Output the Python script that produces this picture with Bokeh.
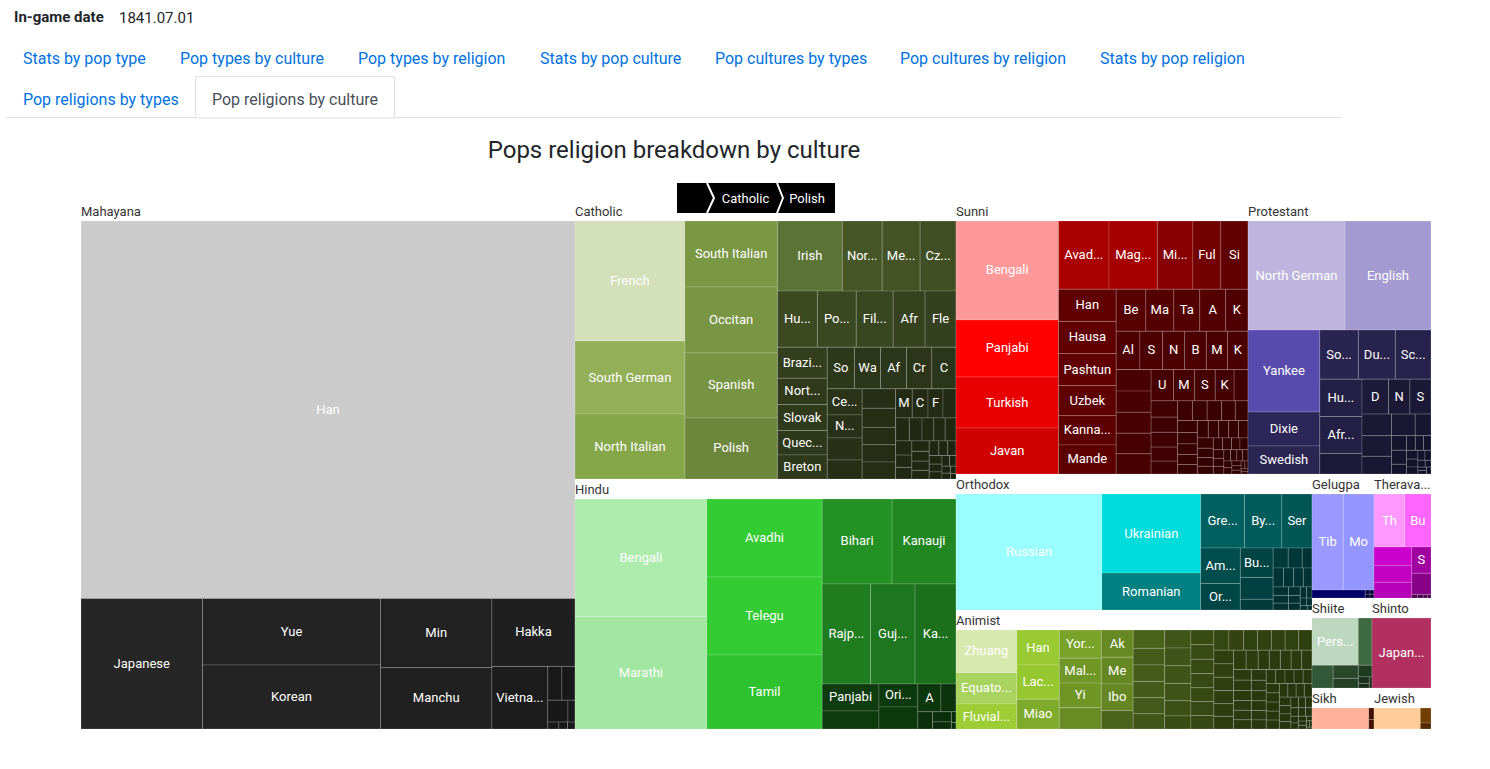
from bokeh.core.properties import value
from bokeh.embed import file_html
from bokeh.models import ColumnDataSource, Range1d
from bokeh.plotting import figure
from bokeh.resources import INLINE

# religion totals and culture values
religions = ["Mahayana", "Catholic", "Hindu", "Sunni", "Protestant", "Orthodox", "Animist",
             "Gelugpa", "Theravada", "Shiite", "Shinto", "Sikh", "Jewish"]
religion_labels = ["Mahayana", "Catholic", "Hindu", "Sunni", "Protestant", "Orthodox", "Animist",
                   "Gelugpa", "Therava...", "Shiite", "Shinto", "Sikh", "Jewish"]
religion_totals = [260832, 105918, 95250, 79716, 49959, 48416, 42364, 7688, 7068, 5400, 5310, 2542, 2337]

mahayana_names = ["Han", "Japanese", "Yue", "Korean", "Min", "Manchu", "Hakka", "Vietna..."]
mahayana_values = [186485, 15856, 11837, 11392, 7694, 6835, 5644, 3500, 476, 442, 440, 154, 77, 60, 52]

catholic_names = ["French", "South German", "North Italian", "South Italian", "Occitan", "Spanish", "Polish",
                  "Irish", "Nor...", "Me...", "Cz...", "Hu...", "Po...", "Fil...", "Afr", "Fle",
                  "Brazi...", "Nort...", "Slovak", "Quec...", "Breton", "So", "Wa", "Af", "Cr", "C",
                  "Ce...", "N...", "", "", "", "", "", "", "", "M", "C", "F"]
catholic_values = [13200, 8030, 7150, 6118, 6100, 6025, 5655, 4550, 2800, 2660, 2520, 2240, 2184, 2072, 1792, 1736,
                   1550, 1310, 1290, 1220, 1200, 1134, 1092, 1085, 1050, 1008, 910, 805, 770, 665, 650, 640, 585,
                   575, 570, 483, 460, 437, 378, 315, 294, 273, 260, 250, 230, 200, 190, 180, 170, 160, 150, 140,
                   130, 120, 110, 100, 90, 80, 70, 60, 50, 40, 30]

hindu_names = ["Bengali", "Marathi", "Avadhi", "Telegu", "Tamil", "Bihari", "Kanauji", "Rajp...", "Guj...", "Ka...",
               "Panjabi", "", "Ori...", "", "A"]
hindu_values = [15536, 14824, 9009, 9000, 8547, 5950, 5440, 4850, 4450, 4100, 1539, 1026, 897, 858, 644, 420, 255,
                190, 133, 50, 30]

sunni_names = ["Bengali", "Panjabi", "Turkish", "Javan", "Avad...", "Mag...", "Mi...", "Ful", "Si",
               "Han", "Hausa", "Pashtun", "Uzbek", "Kanna...", "Mande", "Be", "Ma", "Ta", "A", "K",
               "Al", "S", "N", "B", "M", "K", "", "", "", "", "", "U", "M", "S", "K"]
sunni_values = [10148, 5843, 5228, 4715, 3448, 3298, 2428, 1904, 1856, 1854, 1852, 1850, 1740, 1682, 1680,
                1247, 1176, 1092, 1090, 937, 912, 870, 850, 830, 820, 780, 750, 740, 730, 720, 705, 700, 651, 650,
                589, 434, 430, 400, 390, 370, 340, 295, 290, 285, 270, 250, 240, 225, 210, 200, 190, 190, 180, 175,
                170, 165, 165, 150, 138, 123, 110, 105, 100, 95, 90, 85, 80, 75, 70, 65, 60, 55, 50, 45, 40, 35,
                30, 25, 20, 15]

protestant_names = ["North German", "English", "Yankee", "Dixie", "Swedish", "So...", "Du...", "Sc...",
                    "Hu...", "Afr...", "", "D", "N", "S"]
protestant_values = [10573, 9374, 5879, 2438, 2008, 1891, 1813, 1749, 1576, 1560, 865, 924, 745, 735, 638, 606,
                     520, 512, 341, 219, 210, 146, 130, 120, 110, 100, 90, 80, 70, 60, 50, 40, 30, 30, 30]

orthodox_names = ["Russian", "Ukrainian", "Romanian", "Gre...", "By...", "Ser", "Am...", "Or...", "Bu..."]
orthodox_values = [16901, 7789, 3648, 2363, 2008, 1627, 1403, 1052, 965, 717, 349, 302, 280, 196, 195, 190, 185,
                   165, 130, 120, 105, 100, 90, 80, 70, 60, 50, 40, 30, 20]

animist_names = ["Zhuang", "Equato...", "Fluvial...", "Han", "Lac...", "Miao", "Yor...", "Mal...", "Yi", "",
                 "Ak", "Me", "Ibo"]
animist_values = [2605, 1909, 1525, 1495, 1465, 1268, 1189, 1050, 1040, 895, 870, 860, 850, 590, 580, 525, 520,
                  515, 510, 480, 475, 470, 465, 460, 400, 345, 340, 335, 330, 325, 320, 318, 312, 305, 295,
                  285, 280, 280, 275, 270, 270, 265, 263, 260, 250, 250, 245, 235, 215, 215, 210, 205, 200, 190,
                  185, 180, 175, 170, 165, 160, 155, 150, 145, 140, 135, 135, 130, 128, 128, 125, 122, 122, 120,
                  118, 118, 115, 112, 110, 105, 100, 95, 90, 85, 80, 75, 70, 65, 60, 55, 50, 45, 40, 35, 30, 25,
                  20, 15, 10]

gelugpa_names = ["Tib", "Mo"]
gelugpa_values = [3014, 2956, 424, 20, 18, 17, 15]

theravada_names = ["Th", "Bu", "", "", "", "S"]
theravada_values = [1627, 1394, 690, 641, 592, 507, 413, 20, 18, 14, 12]

shiite_names = ["Pers..."]
shiite_values = [2162, 644, 476, 328, 240, 158, 70, 50, 30]

shinto_names = ["Japan..."]
shinto_values = [4150]

sikh_names = [""]
sikh_values = [1182, 60, 50]

jewish_names = [""]
jewish_values = [972, 160, 64]

culture_names = [mahayana_names, catholic_names, hindu_names, sunni_names, protestant_names, orthodox_names,
                 animist_names, gelugpa_names, theravada_names, shiite_names, shinto_names, sikh_names, jewish_names]
culture_values = [mahayana_values, catholic_values, hindu_values, sunni_values, protestant_values, orthodox_values,
                  animist_values, gelugpa_values, theravada_values, shiite_values, shinto_values, sikh_values,
                  jewish_values]

# share of the biggest culture -> tile colour
ramps = {
    "Mahayana": [(1, "#cbcbcb"), (.09, "#262626"), (.06, "#232323"), (.04, "#212121"), (.02, "#1c1c1c"), (0, "#181818")],
    "Catholic": [(1, "#d3e0ba"), (.61, "#93b058"), (.54, "#85a74a"), (.46, "#799644"), (.43, "#6c873c"),
                 (.345, "#5b7335"), (.21, "#475626"), (.17, "#3b4a21"), (.117, "#333e1d"), (.086, "#2d371a"),
                 (.05, "#262e16"), (.01, "#1f2611"), (0, "#1a2010")],
    "Hindu": [(1, "#aeecae"), (.95, "#a0e7a0"), (.58, "#33cc33"), (.55, "#2ec32e"), (.38, "#239023"),
              (.26, "#1c6f1c"), (.1, "#0e3c0e"), (.05, "#0d3a0d"), (0, "#0a2a0a")],
    "Sunni": [(1, "#ff9999"), (.576, "#ff0000"), (.515, "#e80000"), (.465, "#d10000"), (.34, "#ab0000"),
              (.24, "#870000"), (.1876, "#730000"), (.1827, "#600000"), (.12, "#550000"), (.09, "#4f0000"),
              (.07, "#470000"), (.03, "#3c0000"), (0, "#2e0000")],
    "Protestant": [(1, "#bdb5de"), (.887, "#a49ad2"), (.556, "#594bad"), (.23, "#2d2759"), (.18, "#2a2450"),
                   (.15, "#241f45"), (.087, "#1d1a3a"), (.06, "#1b1834"), (0, "#131129")],
    "Orthodox": [(1, "#99ffff"), (.46, "#00dbdb"), (.216, "#008080"), (.14, "#006060"), (.096, "#005555"),
                 (.083, "#004d4d"), (.057, "#004444"), (.02, "#003a3a"), (0, "#002c2c")],
    "Animist": [(1, "#d8e9ae"), (.73, "#a8d35e"), (.585, "#9ccd34"), (.56, "#96c62f"), (.487, "#80aa2b"),
                (.4, "#6f9525"), (.334, "#678923"), (.226, "#4a641b"), (.18, "#3f5418"), (.13, "#394c14"),
                (.1, "#2e3e10"), (0, "#232f0d")],
    "Gelugpa": [(1, "#9999ff"), (.98, "#9595ff"), (.14, "#000066"), (0, "#000033")],
    "Theravada": [(1, "#ff99ff"), (.857, "#ff66ff"), (.424, "#cc00cc"), (.364, "#b800b8"), (.31, "#a000a0"),
                  (.254, "#880088"), (0, "#440044")],
    "Shiite": [(1, "#bed8bf"), (.3, "#3f6b41"), (.22, "#335838"), (.15, "#2a472c"), (.07, "#1e3a20"), (0, "#142a16")],
    "Shinto": [(1, "#b23060"), (0, "#b23060")],
    "Sikh": [(1, "#ffb199"), (.06, "#441100"), (0, "#441100")],
    "Jewish": [(1, "#ffcc99"), (.16, "#703c00"), (0, "#3d2000")],
}

RATIO = 0.5 * (1 + 5 ** 0.5)
FONT = value("Roboto")


def worst(row, fixed):
    total = sum(row)
    f = fixed * fixed * RATIO
    return max(f * max(row) / (total * total), total * total / (f * min(row)))


def squarify(values, x, y, w, h):
    # same rows and columns as a squarified treemap
    scale = w * h / sum(values)
    areas = [v * scale for v in values]
    rects = []
    row = []
    best = float("inf")
    fixed = min(w, h)
    i = 0

    def place(row, flush):
        nonlocal x, y, w, h
        other = sum(row) / fixed
        if fixed == w:
            if flush or other > h:
                other = h
            last = x
            for n, a in enumerate(row):
                step = a / other
                remain = x + w - last
                step = remain if n == len(row) - 1 or remain < step else step
                rects.append((last, last + step, y, y + other))
                last += step
            y += other
            h -= other
        else:
            if flush or other > w:
                other = w
            last = y
            for n, a in enumerate(row):
                step = a / other
                remain = y + h - last
                step = remain if n == len(row) - 1 or remain < step else step
                rects.append((x, x + other, last, last + step))
                last += step
            x += other
            w -= other

    while i < len(areas):
        row.append(areas[i])
        score = worst(row, fixed)
        if score <= best:
            i += 1
            best = score
        else:
            row.pop()
            place(row, False)
            fixed = min(w, h)
            row = []
            best = float("inf")
    if row:
        place(row, True)
    return rects


def ramp_color(stops, share):
    for (s0, c0), (s1, c1) in zip(stops, stops[1:]):
        if share >= s1:
            t = (share - s1) / (s0 - s1)
            a = [int(c1[k:k + 2], 16) for k in (1, 3, 5)]
            b = [int(c0[k:k + 2], 16) for k in (1, 3, 5)]
            return "#%02x%02x%02x" % tuple(round(p + (q - p) * t) for p, q in zip(a, b))
    return stops[-1][1]


p = figure(width=1474, height=753, x_range=Range1d(0.5, 1474.5), y_range=Range1d(753.5, 0.5),
           x_axis_type=None, y_axis_type=None, output_backend="svg", toolbar_location=None,
           min_border=0, outline_line_color=None)
p.grid.visible = False

# page header and tabs
p.text([14], [17], text=["In-game date"], text_font=FONT, text_font_size="15px", text_font_style="bold",
       text_color="#212529", text_baseline="middle")
p.text([119], [17], text=["1841.07.01"], text_font=FONT, text_font_size="15px",
       text_color="#212529", text_baseline="middle")

p.line([6, 1342], [117.5, 117.5], line_color="#dee2e6", line_width=1)
p.quad(left=[195.5], right=[394.5], top=[76.5], bottom=[118], fill_color="white", line_color="#dee2e6")

tab_labels = ["Stats by pop type", "Pop types by culture", "Pop types by religion", "Stats by pop culture",
              "Pop cultures by types", "Pop cultures by religion", "Stats by pop religion", "Pop religions by types"]
tab_x = [23, 180, 358, 540, 715, 900, 1100, 23]
tab_y = [58, 58, 58, 58, 58, 58, 58, 99]
p.text(tab_x, tab_y, text=tab_labels, text_font=FONT, text_font_size="16px", text_color="#0072e0",
       text_baseline="middle")
p.text([212], [99], text=["Pop religions by culture"], text_font=FONT, text_font_size="16px",
       text_color="#495057", text_baseline="middle")

p.text([674], [150], text=["Pops religion breakdown by culture"], text_font=FONT, text_font_size="24px",
       text_color="#212529", text_align="center", text_baseline="middle")

# treemap
tiles = dict(left=[], right=[], top=[], bottom=[], color=[])
labels = dict(x=[], y=[], text=[])
heads = dict(x=[], y=[], text=[])

outer = squarify(religion_totals, 81, 201, 1350, 528)
for n, (l, r, t, b) in enumerate(outer):
    heads["x"].append(l)
    heads["y"].append(t + 10)
    heads["text"].append(religion_labels[n])
    values = culture_values[n]
    names = culture_names[n]
    stops = ramps[religions[n]]
    for k, (cl, cr, ct, cb) in enumerate(squarify(values, l, t + 20, r - l, b - t - 20)):
        tiles["left"].append(cl)
        tiles["right"].append(cr)
        tiles["top"].append(ct)
        tiles["bottom"].append(cb)
        tiles["color"].append(ramp_color(stops, values[k] / values[0]))
        if k < len(names) and names[k]:
            labels["x"].append((cl + cr) / 2)
            labels["y"].append((ct + cb) / 2 - 0.5)
            labels["text"].append(names[k])

p.quad(left="left", right="right", top="top", bottom="bottom", fill_color="color",
       line_color="#ffffff", line_alpha=0.16, line_width=1, source=ColumnDataSource(tiles))
p.text("x", "y", text="text", text_font=FONT, text_font_size="13px", text_color="white",
       text_align="center", text_baseline="middle", source=ColumnDataSource(labels))
p.text("x", "y", text="text", text_font=FONT, text_font_size="13px", text_color="#333333",
       text_baseline="middle", source=ColumnDataSource(heads))

# breadcrumb
p.quad(left=[677], right=[835], top=[183], bottom=[213], fill_color="black", line_color=None)
p.multi_line([[707, 714, 707], [777, 783, 777]], [[183, 198, 213], [183, 198, 213]],
             line_color="white", line_width=2)
p.text([745.5, 807], [198, 198], text=["Catholic", "Polish"], text_font=FONT, text_font_size="13px",
       text_color="white", text_align="center", text_baseline="middle")

open("out.html", "w").write(file_html(p, INLINE))
